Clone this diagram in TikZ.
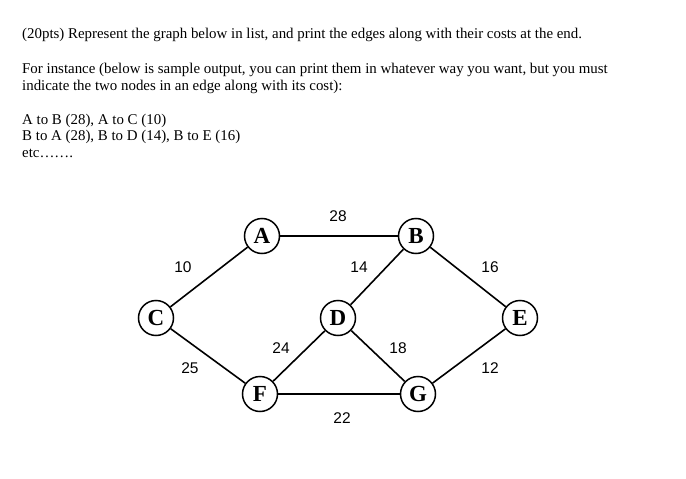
\documentclass[tikz,border=0pt]{standalone}
\usepackage{fontspec}
\setmainfont{Liberation Serif}
\newfontfamily\arialf{Liberation Sans}
\begin{document}
\begin{tikzpicture}[x=1pt,y=-1pt,
  vert/.style={circle,draw,line width=1.5pt,minimum size=35pt,inner sep=0pt,font=\fontsize{23}{23}\selectfont\bfseries},
  edge/.style={line width=1.6pt},
  wt/.style={font=\arialf\fontsize{15.5}{15.5}\selectfont},
  txt/.style={anchor=west,inner sep=0pt,font=\fontsize{14.9}{17}\selectfont}]
\useasboundingbox (0,0) rectangle (686,479);
\node[txt] (t1) at (22,35) {(20pts) Represent the graph below in list, and print the edges along with their costs at the end.};
\node[txt] (t2) at (22,70) {For instance (below is sample output, you can print them in whatever way you want, but you must};
\node[txt] (t3) at (22,87) {indicate the two nodes in an edge along with its cost):};
\node[txt] (t4) at (22,121) {A to B (28), A to C (10)};
\node[txt] (t5) at (22,137) {B to A (28), B to D (14), B to E (16)};
\node[txt] (t6) at (22,153) {etc…….};
\node[vert] (A) at (262,236) {A};
\node[vert] (B) at (416,236) {B};
\node[vert] (C) at (156,318) {C};
\node[vert] (D) at (338,318) {D};
\node[vert] (E) at (520,318) {E};
\node[vert] (F) at (260,394) {F};
\node[vert] (G) at (418,394) {G};
\draw[edge] (A)--(B); \draw[edge] (A)--(C); \draw[edge] (B)--(D); \draw[edge] (B)--(E);
\draw[edge] (C)--(F); \draw[edge] (D)--(F); \draw[edge] (D)--(G); \draw[edge] (E)--(G);
\draw[edge] (F)--(G);
\node[wt] (w1) at (338,216) {28};
\node[wt] (w2) at (183,267) {10};
\node[wt] (w3) at (359,267) {14};
\node[wt] (w4) at (490,267) {16};
\node[wt] (w5) at (281,348) {24};
\node[wt] (w6) at (398,348) {18};
\node[wt] (w7) at (190,368) {25};
\node[wt] (w8) at (490,368) {12};
\node[wt] (w9) at (342,418) {22};
\end{tikzpicture}
\end{document}
